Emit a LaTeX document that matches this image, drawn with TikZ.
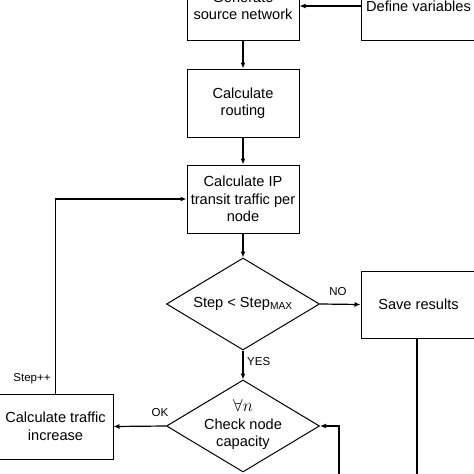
\documentclass[tikz,border=0pt]{standalone}
\usepackage{fontspec}
\setmainfont{Liberation Sans}
\usetikzlibrary{shapes.geometric,arrows.meta}
\tikzset{
  box/.style={draw=black, line width=1pt, rectangle, inner sep=0pt, align=center,
    font=\fontsize{14.6}{17.5}\selectfont},
  dia/.style={draw=black, line width=1pt, diamond, inner sep=0pt,
    minimum width=153pt, minimum height=92pt},
  diatext/.style={align=center, inner sep=0pt, font=\fontsize{14.6}{17.5}\selectfont},
  lbl/.style={inner sep=0pt, font=\fontsize{11.5}{13}\selectfont},
  arr/.style={line width=1.2pt, -{Latex[length=6pt,width=5pt]}},
  ln/.style={line width=1.2pt}
}
\begin{document}
\begin{tikzpicture}[x=1pt,y=-1pt]
\useasboundingbox (0,0) rectangle (474,474);
\clip (0,0) rectangle (474,474);
\fill[white] (0,0) rectangle (474,474);
% boxes
\node[box, minimum width=112pt, minimum height=68pt] (gen) at (243,6) {Generate\\source network};
\node[box, minimum width=115pt, minimum height=68pt] (defv) at (418.5,6) {Define variables};
\node[box, minimum width=112pt, minimum height=68pt] (rout) at (243,103) {Calculate\\routing};
\node[box, minimum width=112pt, minimum height=68pt] (ip) at (243,199) {Calculate IP\\transit traffic per\\node};
\node[dia] (d1) at (243,304) {};
\node[diatext] (d1t) at (243,304) {Step {<} Step\textsubscript{MAX}};
\node[box, minimum width=115pt, minimum height=67pt] (save) at (418.5,304.5) {Save results};
\node[dia] (d2) at (243,426) {};
\node[diatext] (d2t) at (243,425) {{\fontsize{17}{17.5}\selectfont$\forall n$}\\Check node\\capacity};
\node[box, minimum width=115pt, minimum height=65pt] (inc) at (55.5,426.5) {Calculate traffic\\increase};
% free ends
\coordinate (c1) at (417,480);
\coordinate (c2) at (339,480);
% connectors
\draw[arr] (defv.west) -- (gen.east);
\draw[arr] (gen.south) -- (rout.north);
\draw[arr] (rout.south) -- (ip.north);
\draw[arr] (ip.south) -- (d1.north);
\draw[arr] (d1.east) -- (save.west);
\draw[arr] (d1.south) -- (d2.north);
\draw[arr] (d2.west) -- (inc.east);
\draw[arr] (inc.north) |- (ip.west);
\draw[ln] (c1 |- save.south) -- (c1);
\draw[arr] (c2) |- (d2.east);
% labels
\node[lbl] (lno) at (338,292) {NO};
\node[lbl, anchor=west] (lyes) at (247,362) {YES};
\node[lbl] (lok) at (160,413) {OK};
\node[lbl] (lstep) at (32,379) {Step++};
\end{tikzpicture}
\end{document}
